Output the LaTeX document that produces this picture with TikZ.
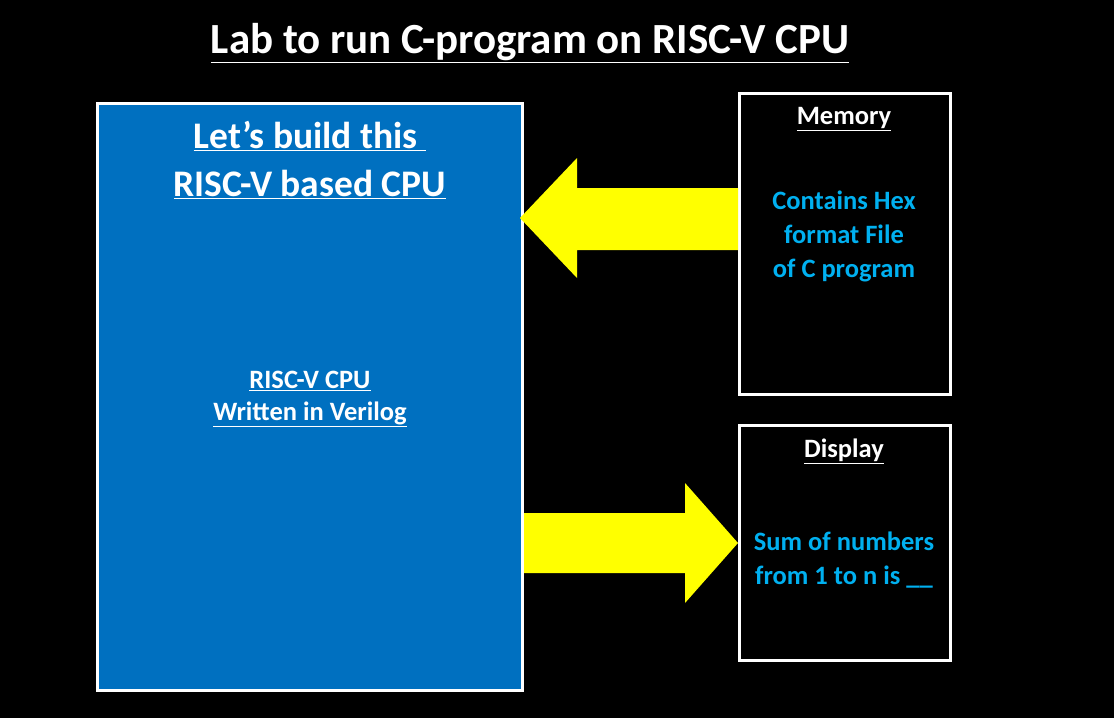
\documentclass[tikz,border=0pt]{standalone}
\usepackage{fontspec}
\setmainfont{Carlito}
\definecolor{cyn}{RGB}{0,176,240}
\definecolor{blu}{RGB}{0,112,192}
\definecolor{yel}{RGB}{255,255,0}
\begin{document}
\begin{tikzpicture}[x=1pt,y=-1pt,
  lbl/.style={text=white,font=\bfseries,align=center},
  cy/.style={text=cyn,font=\bfseries\fontsize{26.5}{34}\selectfont,align=center},
  box/.style={draw=white,line width=3pt},
  arr/.style={fill=yel,draw=none}]
\fill[black] (0,0) rectangle (1114,718);
\useasboundingbox (0,0) rectangle (1114,718);
\node[lbl,font=\bfseries\fontsize{43}{46}\selectfont] (title) at (530,43) {\underline{Lab to run C-program on RISC-V CPU}};
\draw[box,fill=blu] (97,103) rectangle (522,690);
\node[lbl,font=\bfseries\fontsize{37.5}{48}\selectfont] (build) at (310,160) {\underline{Let’s build this\ }\\\underline{RISC-V based CPU}};
\node[lbl,font=\bfseries\fontsize{26.5}{32}\selectfont] (cpu) at (310,399) {\underline{RISC-V CPU}\\\underline{Written in Verilog}};
\draw[box] (739,93) rectangle (950,394);
\node[lbl,font=\bfseries\fontsize{26.5}{30}\selectfont] (mem) at (844,119) {\underline{Memory}};
\node[cy] (memtxt) at (844,236) {Contains Hex\\format File\\of C program};
\draw[box] (739,425) rectangle (950,660);
\node[lbl,font=\bfseries\fontsize{26.5}{30}\selectfont] (disp) at (844,451) {\underline{Display}};
\node[cy] (disptxt) at (844,560) {Sum of numbers\\from 1 to n is \_\_};
\fill[arr] (520,218) -- (577,158) -- (577,188) -- (738,188) -- (738,250) -- (577,250) -- (577,278) -- cycle;
\fill[arr] (738,543) -- (685,483) -- (685,513) -- (524,513) -- (524,573) -- (685,573) -- (685,603) -- cycle;
\end{tikzpicture}
\end{document}
